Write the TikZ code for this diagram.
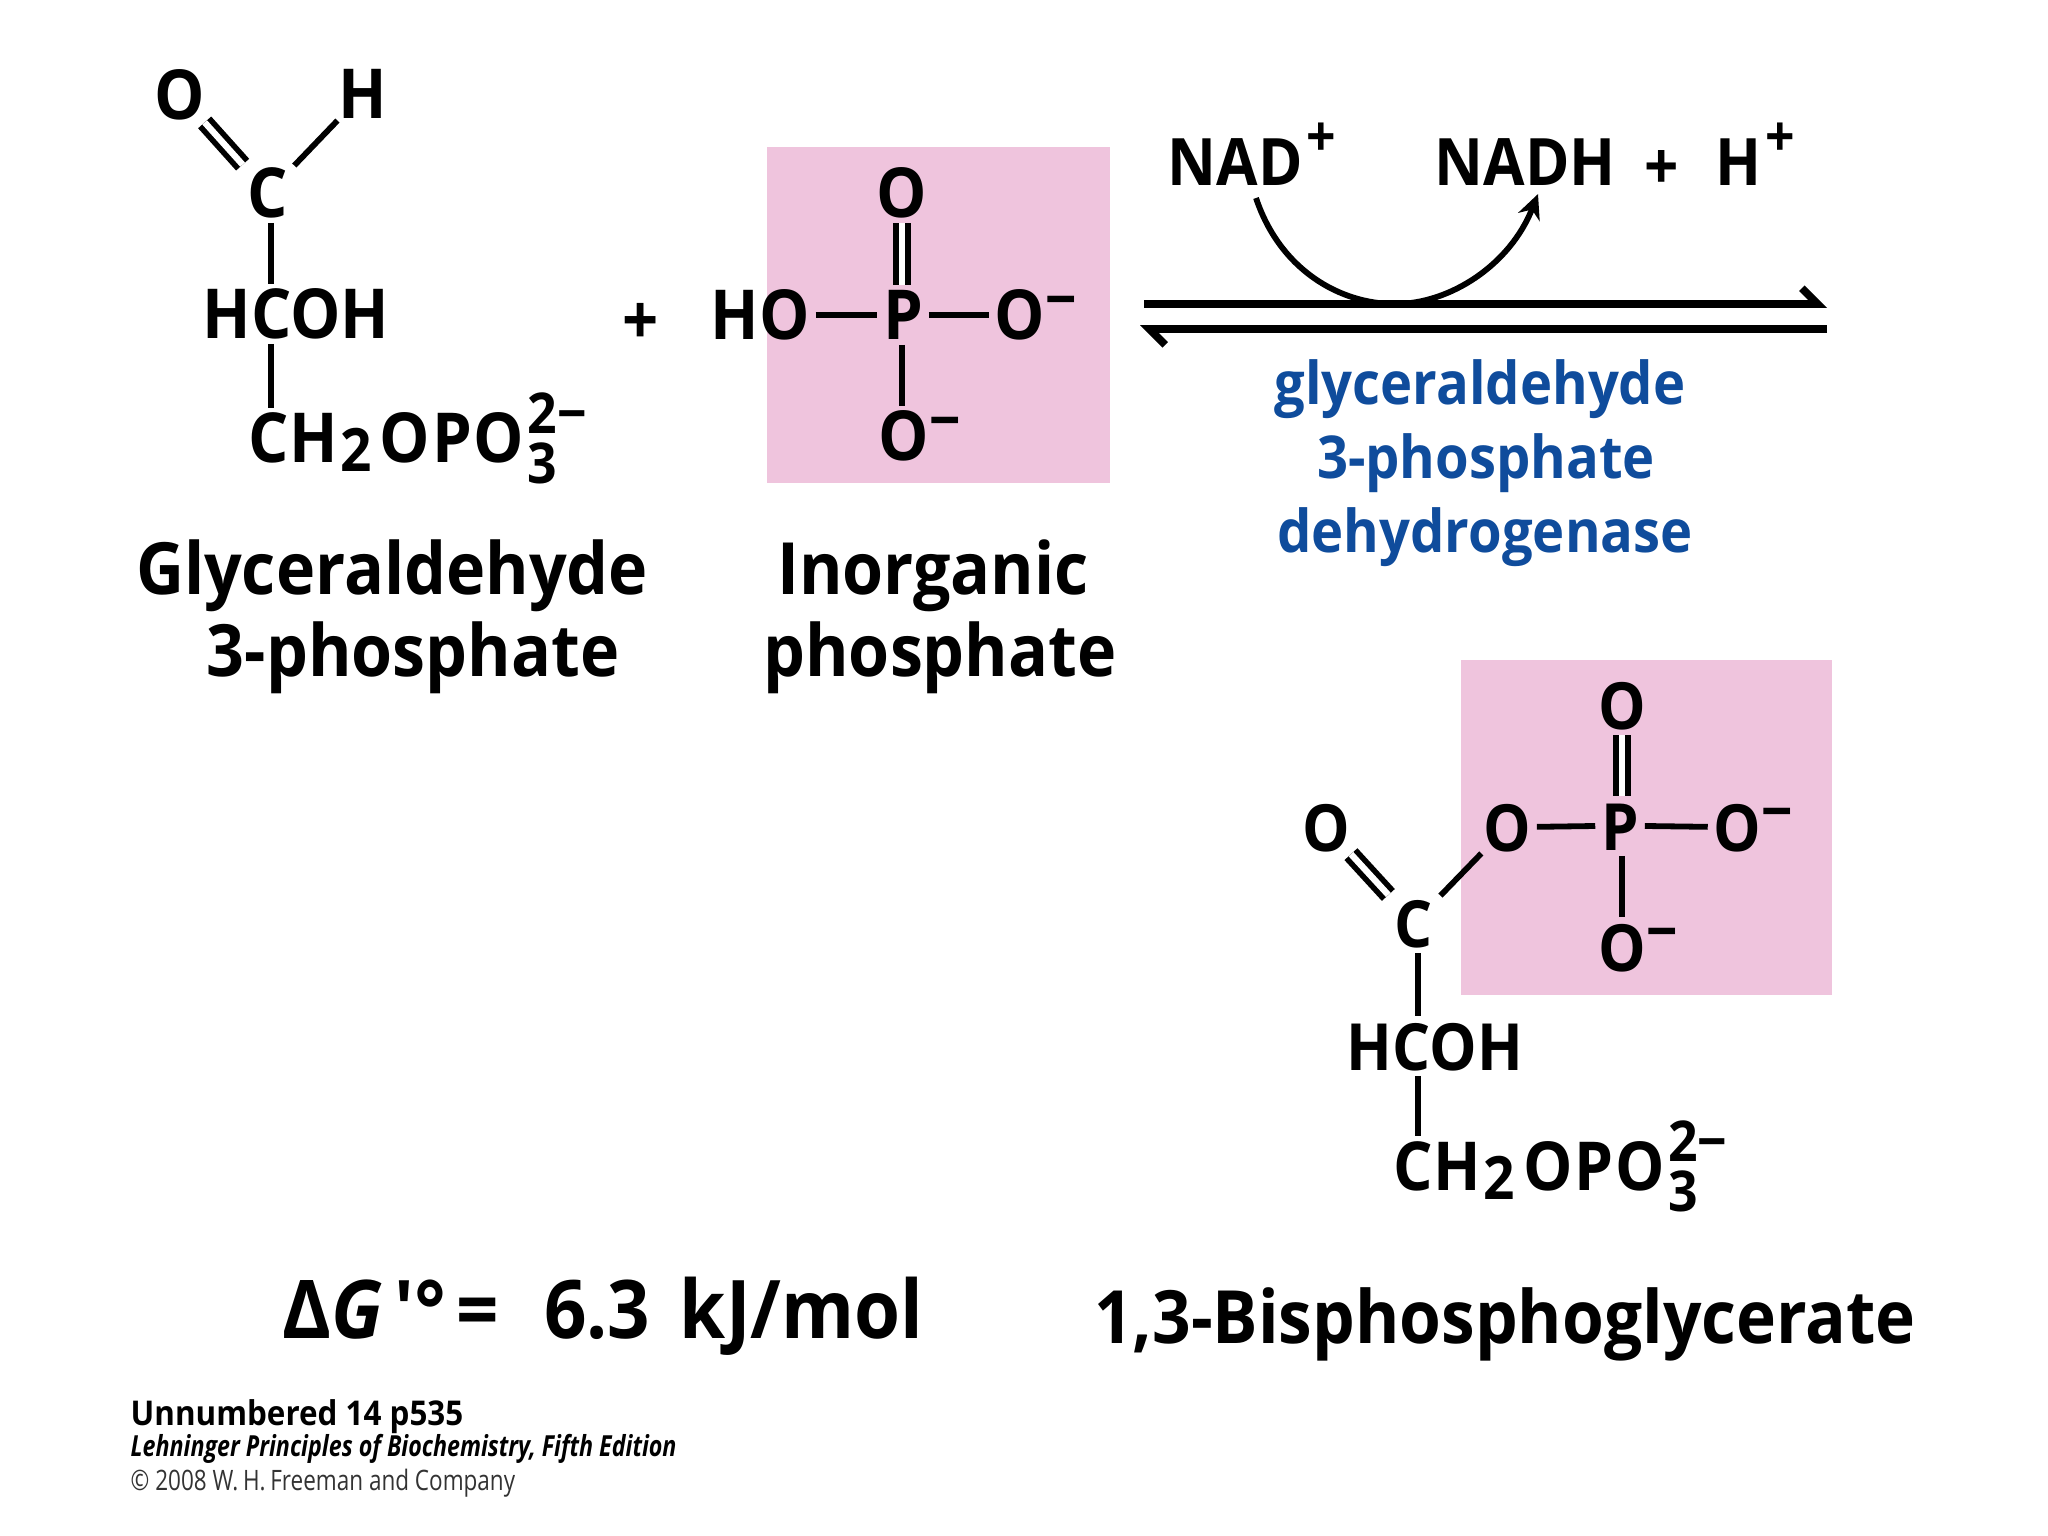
\documentclass[tikz,border=0pt]{standalone}
\usepackage{fontspec}
\setmainfont{Open Sans}[FakeStretch=0.92]
\newfontfamily\footfont{Open Sans}[FakeStretch=0.8]
\usetikzlibrary{arrows,arrows.meta}
\usetikzlibrary{calc}
\definecolor{phospink}{RGB}{239,196,221}
\definecolor{enzblue}{RGB}{15,76,156}
\newcommand{\negcharge}{\raisebox{5.4pt}{\fontsize{17}{17}\selectfont −}}
\newcommand{\subtwo}{\kern0.8pt\raisebox{-2.8pt}{\fontsize{17}{17}\selectfont 2}\kern2.3pt}
\newcommand{\ionstack}{\kern1pt\rlap{\raisebox{8.2pt}{\fontsize{16}{16}\selectfont 2−}}\raisebox{-6pt}{\fontsize{16}{16}\selectfont 3}}
\newcommand{\pluscharge}{\kern1pt\raisebox{8pt}{\fontsize{16}{16}\selectfont +}}
\tikzset{
  atom/.style={inner sep=0pt, text height=13.7pt, text depth=0pt, anchor=base, font=\fontsize{19.6}{19.6}\selectfont\bfseries},
  atomw/.style={atom, anchor=base west},
  bond/.style={line width=1.65pt, shorten <=1.5pt, shorten >=1.5pt},
  dbond/.style={line width=1.6pt, double, double distance=1.8pt, shorten <=1.5pt, shorten >=1.5pt},
  diag/.style={shorten <=10.8pt, shorten >=10.5pt},
  label/.style={inner sep=0pt, anchor=base, font=\fontsize{20.5}{20.5}\selectfont\bfseries},
  enz/.style={inner sep=0pt, anchor=base, text=enzblue, font=\fontsize{16.8}{16.8}\selectfont\bfseries},
  foot/.style={inner sep=0pt, anchor=base west},
  rxn/.style={line width=2.2pt},
}
\begin{document}
\begin{tikzpicture}[x=0.01cm, y=-0.01cm]

    \useasboundingbox (0,0) rectangle (2048,1536);
    \fill[white] (0,0) rectangle (2048,1536);

    % pink boxes
    \fill[phospink] (767,147) rectangle (1110,483);
    \fill[phospink] (1461,660) rectangle (1832,995);

    % glyceraldehyde 3-phosphate
    \node[atom] (o1) at (180,119) {O};
    \node[atom] (h1) at (363,118) {H};
    \node[atom] (c1) at (268,217) {C};
    \node[atomw] (hcoh1) at (202,338) {HCOH};
    \node[atomw] (ch1) at (248,462) {CH\subtwo O\kern.5pt P\kern.5pt O\ionstack};
    \draw[dbond, diag] (c1.center) -- (o1.center);
    \draw[bond, diag] (c1.center) -- (h1.center);
    \draw[bond] (c1.south) ++(3,0) coordinate (c1s) -- (c1s |- hcoh1.north);
    \draw[bond] (c1s |- hcoh1.south) -- (c1s |- ch1.north);

    \node[atom] (plus) at (641,344) {+};

    % inorganic phosphate
    \node[atomw] (ho) at (710,339) {HO};
    \node[atom] (p1) at (903,339) {P};
    \node[atom] (o2) at (902,217) {O};
    \node[atomw] (o3) at (994,339) {O\negcharge};
    \node[atomw] (o4) at (878,460) {O\negcharge};
    \draw[bond] (ho.east) -- (p1.west);
    \draw[bond] (p1.east) -- (o3.west);
    \draw[dbond] (p1.north -| o2.south) -- (o2.south);
    \draw[bond] (p1.south -| o2.south) -- (o2.south |- o4.north);

    \node[label] (lab1) at (392,594) {Glyceraldehyde};
    \node[label] (lab2) at (413,676) {3-phosphate};
    \node[label] (lab3) at (933,594) {Inorganic};
    \node[label] (lab4) at (940,676) {phosphate};

    % equilibrium arrows
    \begin{scope}[atom/.append style={font=\fontsize{18.6}{18.6}\selectfont\bfseries}]
    \node[atomw] (nad) at (1167,185) {NAD\pluscharge};
    \node[atomw] (nadh) at (1434,185) {NADH};
    \node[atom] (plus2) at (1662,189) {+};
    \node[atomw] (hplus) at (1715,185) {H\pluscharge};
    \end{scope}
    \coordinate (fwds) at (1144,304);
    \coordinate (fwde) at (1827,304);
    \coordinate (revs) at (1827,329);
    \coordinate (reve) at (1140,329);
    \coordinate (nadout) at (1256,198);
    \coordinate (midcurve) at (1395,304);
    \coordinate (nadhin) at (1538,194);
    \draw[rxn, -{Straight Barb[left,length=4.5pt,width=9pt]}] (fwds) -- (fwde);
    \draw[rxn, -{Straight Barb[left,length=4.5pt,width=9pt]}] (revs) -- (reve);
    \draw[line width=1.65pt, -{Stealth[length=7pt,width=6.5pt]}] (nadout) .. controls (1280,270) and (1340,304) .. (midcurve) .. controls (1450,304) and (1510,265) .. (nadhin);

    \node[enz] (enz1) at (1480,404) {glyceraldehyde};
    \node[enz] (enz2) at (1486,478) {3-phosphate};
    \node[enz] (enz3) at (1485,552) {dehydrogenase};

    % 1,3-bisphosphoglycerate
    \begin{scope}[atom/.append style={font=\fontsize{18.5}{18.5}\selectfont\bfseries}]
    \node[atom] (o5) at (1326,851) {O};
    \node[atom] (c2) at (1414,947) {C};
    \node[atom] (o6) at (1507,851) {O};
    \node[atom] (p2) at (1620,850) {P};
    \node[atomw] (o7) at (1713,851) {O\negcharge};
    \node[atom] (o8) at (1622,729) {O};
    \node[atomw] (o9) at (1598,971) {O\negcharge};
    \node[atomw] (hcoh2) at (1346,1070) {HCOH};
    \node[atomw, font=\fontsize{19.2}{19.2}\selectfont\bfseries] (ch2) at (1393,1190) {CH\subtwo O\kern.5pt P\kern.5pt O\ionstack};
    \end{scope}
    \draw[dbond, diag] (c2.center) -- (o5.center);
    \draw[bond, diag] (c2.center) -- (o6.center);
    \draw[bond] (o6.east) -- (p2.west);
    \draw[bond] (p2.east) -- (o7.west);
    \draw[dbond] (p2.north -| o8.south) -- (o8.south);
    \draw[bond] (p2.south -| o8.south) -- (o8.south |- o9.north);
    \draw[bond] (c2.south) ++(4,0) coordinate (c2s) -- (c2s |- hcoh2.north);
    \draw[bond] (c2s |- hcoh2.south) -- (c2s |- ch2.north);

    \node[label, font=\fontsize{20.9}{20.9}\selectfont\bfseries] (lab5) at (1505,1343) {1,3-Bisphosphoglycerate};
    \node[label, anchor=base west, font=\fontsize{23}{23}\selectfont\bfseries] (dg) at (282,1338) {Δ\textit{G}\kern3.3pt′°\kern3pt=\kern12.8pt 6.3\kern8.4pt kJ/mol};

    % caption
    \node[foot, font=\fontsize{9.7}{9.7}\selectfont\bfseries] (fig) at (130,1425) {Unnumbered 14 p535};
    \node[foot, font=\footfont\fontsize{8.25}{8.25}\selectfont\bfseries\itshape] (book) at (130,1456) {Lehninger Principles of Biochemistry, Fifth Edition};
    \node[foot, font=\footfont\fontsize{8}{8}\selectfont, text=black!80] (copy) at (130,1490) {© 2008 W.\,H.\,Freeman and Company};

\end{tikzpicture}
\end{document}
